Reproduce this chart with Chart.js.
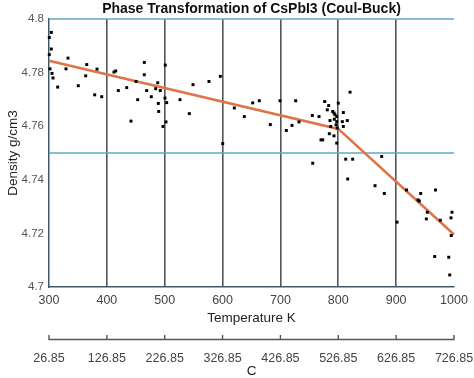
<!DOCTYPE html>
<html>
<head>
<meta charset="utf-8">
<script src="https://cdn.jsdelivr.net/npm/chart.js@4/dist/chart.umd.min.js"></script>
<style>
html,body{margin:0;padding:0;background:#fff;}
canvas{display:block;}
</style>
</head>
<body>
<canvas id="c" width="474" height="378"></canvas>
<script>
const titleText = 'Phase Transformation of CsPbI3 (Coul-Buck)';
const xTitle = 'Temperature K';
const x2Title = 'C';
const yTitle = 'Density g/cm3';

const tempK = [304,300.5,304,300.5,301.7,305.2,306.9,332.8,329.4,315,
 350.6,365.2,363.4,383,379,391.1,412.3,415.3,419.8,434.3,
 464.7,464.7,450.4,453.3,441.7,468.9,501,487.9,484.4,492.4,
 476.8,500.5,488.9,503.4,489.6,526.4,542.5,502.2,497,548.9,
 576.5,596.1,620.3,637.6,600.2,652.1,663.5,682.5,699.3,710.2,
 720,726.4,732.1,755.1,766.7,755.8,770.1,773.1,776.5,783.4,
 781,790.3,792.6,794.3,797.3,793.1,797.3,796.1,785.7,786.9,
 800,808.7,807,815.6,808.7,798.3,784.5,792.6,797.3,820.3,
 812.8,824.9,816.3,875,863.5,879.5,901.5,917.9,942.4,968,
 937.8,940,953.9,952.2,976.3,996.5,994.8,995.3,966.6,990.9,992.6];
const density = [4.7950,4.7931,4.7888,4.7867,4.7814,4.7797,4.7780,4.7854,4.7814,4.7746,
 4.7751,4.7830,4.7788,4.7813,4.7717,4.7710,4.7802,4.7806,4.7733,4.7744,
 4.7838,4.7792,4.7767,4.7699,4.7619,4.7733,4.7828,4.7762,4.7740,4.7733,
 4.7710,4.7705,4.7685,4.7688,4.7655,4.7699,4.7647,4.7616,4.7599,4.7755,
 4.7767,4.7786,4.7668,4.7636,4.7535,4.7687,4.7695,4.7606,4.7695,4.7584,
 4.7603,4.7695,4.7616,4.7640,4.7636,4.7462,4.7549,4.7549,4.7692,4.7677,
 4.7661,4.7655,4.7649,4.7643,4.7636,4.7626,4.7617,4.7605,4.7621,4.7599,
 4.7686,4.7651,4.7617,4.7621,4.7599,4.7593,4.7572,4.7564,4.7537,4.7727,
 4.7477,4.7477,4.7403,4.7487,4.7378,4.7349,4.7242,4.7362,4.7349,4.7362,
 4.7325,4.7321,4.7279,4.7254,4.7249,4.7279,4.7258,4.7192,4.7114,4.7111,4.7045];

const fitK = [300, 800, 1000];
const fitDensity = [4.7844, 4.7590, 4.7196];

const refLevels = [4.8, 4.75];
const refRange = [300, 1000];

const celsiusTicks = [26.85,126.85,226.85,326.85,426.85,526.85,626.85,726.85];

const FONT = '"Liberation Sans", Arial, Helvetica, sans-serif';

const overlay = {
  id: 'overlay',
  afterDraw(chart) {
    const ctx = chart.ctx, ca = chart.chartArea, s = chart.scales.x2;
    ctx.save();
    ctx.font = 'bold 14px ' + FONT;
    ctx.fillStyle = '#111';
    ctx.textAlign = 'center';
    ctx.textBaseline = 'middle';
    ctx.fillText(titleText, (ca.left + ca.right) / 2, 9);
    const y = s.top + 12.5;
    ctx.strokeStyle = '#555';
    ctx.lineWidth = 1.4;
    ctx.lineCap = 'butt';
    ctx.beginPath();
    ctx.moveTo(s.getPixelForValue(celsiusTicks[0]) - 0.7, y);
    ctx.lineTo(s.getPixelForValue(celsiusTicks[celsiusTicks.length - 1]) + 0.7, y);
    for (const v of celsiusTicks) {
      const x = s.getPixelForValue(v);
      ctx.moveTo(x, y);
      ctx.lineTo(x, y - 4.5);
    }
    ctx.stroke();
    ctx.restore();
  }
};

const datasets = [
  {
    type: 'scatter',
    data: tempK.map((k, i) => ({x: k, y: density[i]})),
    pointStyle: 'rect',
    pointRadius: 2.1,
    pointBorderWidth: 0,
    backgroundColor: '#000',
    borderColor: '#000',
    showLine: false,
    clip: false
  },
  {
    type: 'line',
    data: fitK.map((k, i) => ({x: k, y: fitDensity[i]})),
    borderColor: '#de7447',
    borderWidth: 2.6,
    pointRadius: 0,
    fill: false,
    clip: false
  }
].concat(refLevels.map(l => ({
  type: 'line',
  data: refRange.map(k => ({x: k, y: l})),
  borderColor: '#5ea8cb',
  borderWidth: 1.3,
  pointRadius: 0,
  fill: false,
  clip: false
})));

new Chart(document.getElementById('c'), {
  data: {datasets},
  plugins: [overlay],
  options: {
    responsive: false,
    animation: false,
    events: [],
    layout: {padding: {top: 19, right: 20, left: 0, bottom: 0}},
    plugins: {legend: {display: false}, title: {display: false}, tooltip: {enabled: false}},
    scales: {
      y: {
        type: 'linear',
        min: 4.7, max: 4.8,
        ticks: {stepSize: 0.02, color: '#555', font: {family: FONT, size: 11.5}, padding: 5,
                callback: v => String(parseFloat(Number(v).toFixed(2)))},
        grid: {display: false, drawTicks: false},
        border: {display: true, color: '#3d5a6a', width: 1.5},
        title: {display: true, text: yTitle, color: '#222', font: {family: FONT, size: 13.5}, padding: {top: 5, bottom: 0}},
        afterFit(s) { s.width = 49; s.paddingTop = 0; s.paddingBottom = 0; }
      },
      x: {
        type: 'linear',
        min: 300, max: 1000,
        ticks: {stepSize: 100, color: '#444', font: {family: FONT, size: 12.5}, padding: 6, maxRotation: 0,
                callback: v => String(v)},
        grid: {
          drawTicks: false,
          color: c => (c.tick && (c.tick.value === 300 || c.tick.value === 1000)) ? 'rgba(0,0,0,0)' : '#555',
          lineWidth: 1.6
        },
        border: {display: true, color: '#3d5a6a', width: 1.5},
        title: {display: true, text: xTitle, color: '#222', font: {family: FONT, size: 13.5}, padding: {top: 2, bottom: 1}},
        afterFit(s) { s.height = 40; s.paddingLeft = 0; s.paddingRight = 0; }
      },
      x2: {
        type: 'linear',
        position: 'bottom',
        min: 26.85, max: 726.85,
        afterBuildTicks(s) { s.ticks = celsiusTicks.map(v => ({value: v})); },
        ticks: {autoSkip: false, maxRotation: 0, color: '#444', font: {family: FONT, size: 12.5}, padding: 24,
                callback: v => Number(v).toFixed(2)},
        grid: {display: false, drawTicks: false},
        border: {display: false},
        title: {display: true, text: x2Title, color: '#222', font: {family: FONT, size: 13.5, lineHeight: 1}, padding: {top: 0, bottom: 0}},
        afterFit(s) { s.height = 51; s.paddingLeft = 0; s.paddingRight = 0; }
      }
    }
  }
});
</script>
</body>
</html>
